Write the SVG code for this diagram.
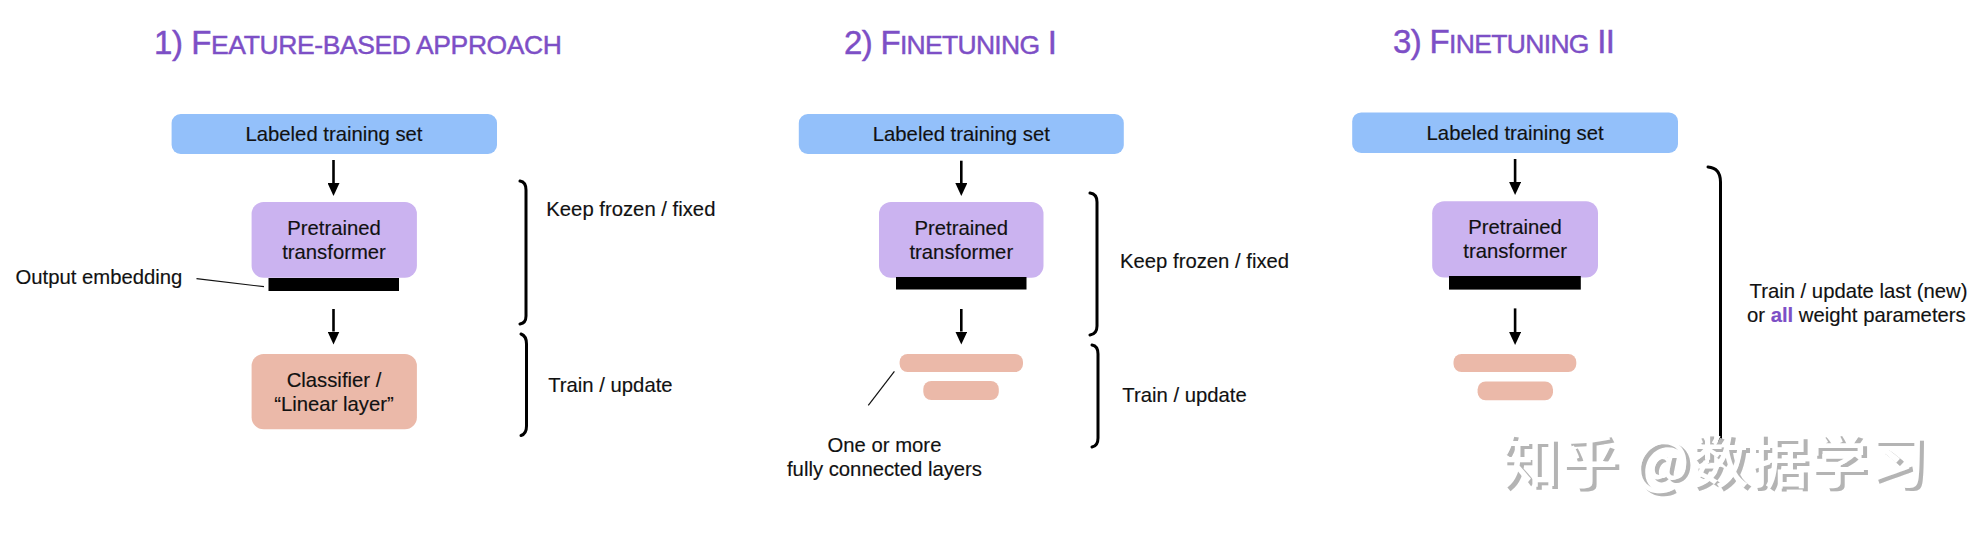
<svg xmlns="http://www.w3.org/2000/svg" width="1981" height="543" viewBox="0 0 1981 543">
<style>
text{font-family:"Liberation Sans",Arial,sans-serif;font-size:20.3px;fill:#111;stroke:#111;stroke-width:.15}
.m{text-anchor:middle}
.title{font-size:33px;fill:#7d4fc6;stroke:#7d4fc6;stroke-width:.45}
.title tspan{font-size:26.5px}
.blue{fill:#93c0fa}
.purple{fill:#cbb3f0}
.salmon{fill:#ebb9a9}
.bar{fill:#000}
.arrow{fill:none;stroke:#000;stroke-width:2.6;marker-end:url(#head)}
.thin{fill:none;stroke:#111;stroke-width:1.2}
.brace{fill:none;stroke:#000;stroke-width:3;stroke-linecap:round}
.wm{font-family:"Noto Sans CJK SC",sans-serif;font-size:58px;font-weight:500;fill:#fff;stroke:none;filter:url(#shadow)}
</style>
<defs>
<marker id="head" markerUnits="userSpaceOnUse" markerWidth="13" markerHeight="12" refX="0" refY="6" orient="auto"><path d="M0,0L13,6L0,12z" fill="#000"/></marker>
<filter id="shadow" x="-5%" y="-20%" width="110%" height="140%" color-interpolation-filters="sRGB"><feOffset in="SourceAlpha" dx="4" dy="3" result="o"/><feFlood flood-color="#b4b4b4"/><feComposite in2="o" operator="in" result="g"/><feMerge><feMergeNode in="g"/><feMergeNode in="SourceGraphic"/></feMerge></filter>
</defs>
<rect width="1981" height="543" fill="#fff"/>

<text id="title1" class="title" x="154" y="54" textLength="408">1) F<tspan>EATURE-BASED APPROACH</tspan></text>
<text id="title2" class="title" x="844" y="54" textLength="213">2) F<tspan>INETUNING</tspan> I</text>
<text id="title3" class="title" x="1393" y="53" textLength="222">3) F<tspan>INETUNING</tspan> II</text>

<g id="connectors">
<path class="arrow" d="M333.5,160V183"/>
<path class="arrow" d="M333.5,309V331.5"/>
<path class="thin" d="M196.5,278.7L264,286.7"/>
<path class="brace" d="M520,181Q526,182 526,190V316Q526,323 520,324"/>
<path class="brace" d="M521,334Q526.5,336 526.5,344V426Q526.5,434 521,435.5"/>
<path class="arrow" d="M961.3,160.7V183"/>
<path class="arrow" d="M961.3,309V331.5"/>
<path class="thin" d="M894.4,371.3L868.3,405.3"/>
<path class="brace" d="M1090,193Q1097,194 1097,202V326Q1097,334 1090,335"/>
<path class="brace" d="M1092,345Q1098,346 1098,354V438Q1098,446 1092,447"/>
<path class="arrow" d="M1515.1,159V182"/>
<path class="arrow" d="M1515.1,308.4V332"/>
<path class="brace" d="M1708,167Q1720.5,168 1720.5,182V438Q1720.5,450 1708,455"/>
</g>

<g id="panel1">
<g id="p1-input"><rect class="blue" x="171.6" y="114" width="325.4" height="40" rx="9"/><text class="m" x="334" y="140.5">Labeled training set</text></g>
<g id="p1-transformer"><rect class="purple" x="251.6" y="202" width="165.3" height="75.7" rx="12"/><text class="m" x="334" y="235">Pretrained</text><text class="m" x="334" y="258.5">transformer</text></g>
<g id="p1-embedding"><rect class="bar" x="268.5" y="278" width="130.5" height="13"/></g>
<g id="p1-classifier"><rect class="salmon" x="251.6" y="354" width="165.3" height="75.3" rx="12"/><text class="m" x="334" y="387">Classifier /</text><text class="m" x="334" y="411">“Linear layer”</text></g>
<g id="p1-labels"><text x="15.5" y="284">Output embedding</text><text x="546.3" y="215.7">Keep frozen / fixed</text><text x="548.2" y="391.7">Train / update</text></g>
</g>

<g id="panel2">
<g id="p2-input"><rect class="blue" x="798.8" y="114" width="325" height="40" rx="9"/><text class="m" x="961.3" y="141">Labeled training set</text></g>
<g id="p2-transformer"><rect class="purple" x="879" y="202" width="164.5" height="75.7" rx="12"/><text class="m" x="961.3" y="235">Pretrained</text><text class="m" x="961.3" y="258.5">transformer</text></g>
<g id="p2-embedding"><rect class="bar" x="896" y="277" width="130.5" height="12.5"/></g>
<g id="p2-layer1"><rect class="salmon" x="899.6" y="354" width="123.4" height="18" rx="8"/></g>
<g id="p2-layer2"><rect class="salmon" x="923.3" y="381" width="75.5" height="19" rx="8"/></g>
<g id="p2-labels"><text class="m" x="884.5" y="451.7">One or more</text><text class="m" x="884.5" y="476">fully connected layers</text><text x="1120" y="267.7">Keep frozen / fixed</text><text x="1122.3" y="401.7">Train / update</text></g>
</g>

<g id="panel3">
<g id="p3-input"><rect class="blue" x="1352.2" y="112.4" width="325.8" height="40.6" rx="9"/><text class="m" x="1515.1" y="139.5">Labeled training set</text></g>
<g id="p3-transformer"><rect class="purple" x="1432.2" y="201.2" width="165.8" height="76.2" rx="12"/><text class="m" x="1515.1" y="234">Pretrained</text><text class="m" x="1515.1" y="257.5">transformer</text></g>
<g id="p3-embedding"><rect class="bar" x="1449" y="276" width="131.8" height="13.6"/></g>
<g id="p3-layer1"><rect class="salmon" x="1453.5" y="354" width="122.8" height="18" rx="8"/></g>
<g id="p3-layer2"><rect class="salmon" x="1477.6" y="381.5" width="75.4" height="18.8" rx="8"/></g>
<g id="p3-labels"><text x="1749.5" y="297.5">Train / update last (new)</text><text x="1747" y="321.5">or <tspan font-weight="700" style="fill:#7d4fc6;stroke:#7d4fc6">all</tspan> weight parameters</text></g>
</g>

<text id="watermark" class="wm" x="1501" y="483" textLength="425">知乎 @数据学习</text>
</svg>
